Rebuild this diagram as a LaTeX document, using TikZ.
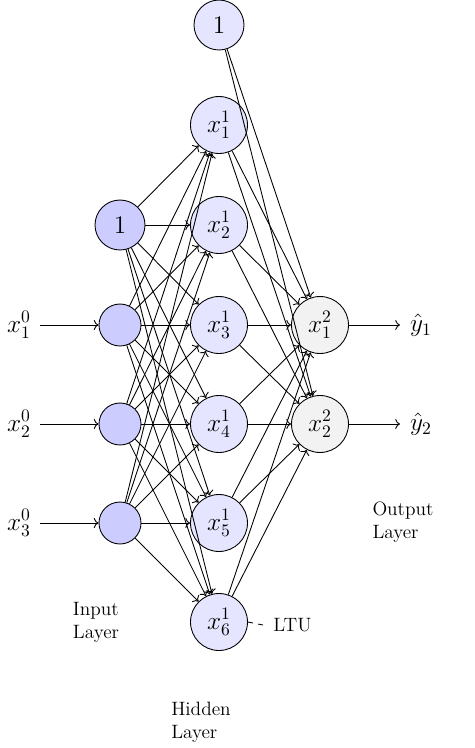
\documentclass[tikz,border=0pt]{standalone}
\usetikzlibrary{arrows.meta}
\begin{document}
\begin{tikzpicture}[x=0.02cm,y=-0.02cm,
  every node/.style={font=\Large},
  neuron/.style={circle,draw,line width=0.5pt,inner sep=0pt},
  inneuron/.style={neuron,fill=blue!20,minimum size=0.84cm},
  inbias/.style={neuron,fill=blue!20,minimum size=1.0cm},
  hidneuron/.style={neuron,fill=blue!10,minimum size=1.14cm},
  hidbias/.style={neuron,fill=blue!10,minimum size=1.0cm},
  outneuron/.style={neuron,fill=gray!10,minimum size=1.14cm},
  conn/.style={->,line width=0.5pt},
  layerlabel/.style={font=\fontsize{11}{13}\selectfont,align=left,inner sep=0pt}]
\useasboundingbox (0,0) rectangle (474,748);

% input layer
\node[inbias] (ib) at (120,225) {$1$};
\node[inneuron] (i1) at (120,325) {};
\node[inneuron] (i2) at (120,424) {};
\node[inneuron] (i3) at (120,523) {};

% input labels
\node (l1) at (19,325) {$x_1^0$};
\node (l2) at (19,424) {$x_2^0$};
\node (l3) at (19,523) {$x_3^0$};
\coordinate (s1) at (40,325);
\coordinate (s2) at (40,424);
\coordinate (s3) at (40,523);
\draw[conn] (s1) -- (i1);
\draw[conn] (s2) -- (i2);
\draw[conn] (s3) -- (i3);

% hidden layer
\node[hidbias] (hb) at (219,25) {$1$};
\node[hidneuron] (h1) at (219,125) {$x_1^1$};
\node[hidneuron] (h2) at (219,225) {$x_2^1$};
\node[hidneuron] (h3) at (219,325) {$x_3^1$};
\node[hidneuron] (h4) at (219,424) {$x_4^1$};
\node[hidneuron] (h5) at (219,523) {$x_5^1$};
\node[hidneuron] (h6) at (219,622) {$x_6^1$};

% output layer
\node[outneuron] (o1) at (320,325) {$x_1^2$};
\node[outneuron] (o2) at (320,424) {$x_2^2$};
\node (y1) at (421,325) {$\hat{y}_1$};
\node (y2) at (421,424) {$\hat{y}_2$};
\coordinate (e1) at (400,325);
\coordinate (e2) at (400,424);
\draw[conn] (o1) -- (e1);
\draw[conn] (o2) -- (e2);

% connections input -> hidden
\foreach \s in {ib,i1,i2,i3}
  \foreach \t in {h1,h2,h3,h4,h5,h6}
    \draw[conn] (\s) -- (\t);

% connections hidden -> output
\foreach \s in {hb,h1,h2,h3,h4,h5,h6}
  \foreach \t in {o1,o2}
    \draw[conn] (\s) -- (\t);

% LTU
\node[font=\fontsize{11}{13}\selectfont,anchor=west,inner sep=0pt] (ltu) at (273,625) {LTU};
\coordinate (ltuend) at (263,625);
\draw[dashed,line width=0.5pt] (h6.east) -- (ltuend);

% layer labels
\node[layerlabel] (il) at (96,622) {Input\\Layer};
\node[layerlabel] (hl) at (201,722) {Hidden\\Layer};
\node[layerlabel] (ol) at (403,522) {Output\\Layer};
\end{tikzpicture}
\end{document}
